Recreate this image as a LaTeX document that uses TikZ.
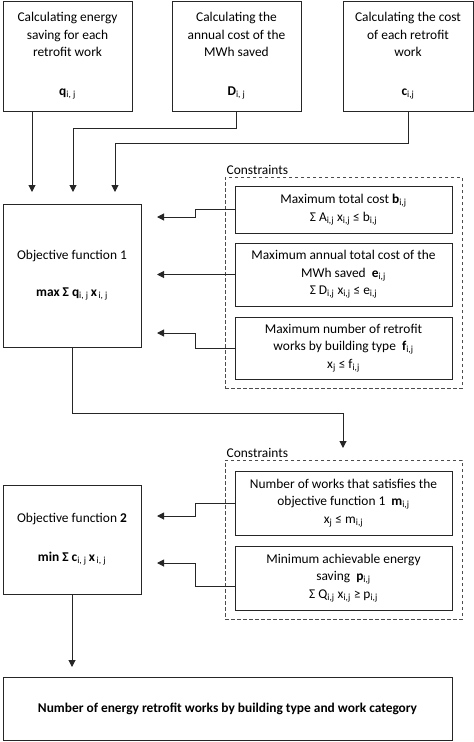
\documentclass[tikz,border=0pt]{standalone}
\usepackage{fontspec}
\setmainfont{Carlito}
\usetikzlibrary{arrows.meta,positioning,calc}

\newcommand{\subij}{\textsubscript{i,j}}

\begin{document}
\begin{tikzpicture}[x=1pt, y=-1pt,
  box/.style={draw=black!85, line width=1pt, align=center, inner sep=2pt,
    font=\fontsize{13.4}{17.5}\selectfont},
  cbox/.style={box, minimum width=217pt},
  dbox/.style={draw=black!70, line width=1pt, dash pattern=on 3.5pt off 2.5pt,
    minimum width=237pt},
  arr/.style={draw=black!85, line width=1pt, -{Triangle[length=7pt,width=7pt]}},
  lbl/.style={font=\fontsize{13.4}{17.5}\selectfont, inner sep=2pt}]
  \useasboundingbox (0,0) rectangle (474,742);

  % Input boxes
  \node[box, minimum width=129pt, minimum height=110pt] (q) at (67.5,56)
    {Calculating energy\\saving for each\\retrofit work\\[21.5pt]\textbf{q}\textsubscript{i, j}};
  \node[box, minimum width=129pt, minimum height=110pt] (D) at (236.5,56)
    {Calculating the\\annual cost of the\\MWh saved\\[21.5pt]\textbf{D}\textsubscript{i, j}};
  \node[box, minimum width=130pt, minimum height=110pt] (c) at (408,56)
    {Calculating the cost\\of each retrofit\\work\\[21.5pt]\textbf{c}\subij};

  % Objective functions
  \node[box, minimum width=138pt, minimum height=143pt] (obj1) at (72,275.5)
    {Objective function 1\\[19.5pt]\textbf{max Σ q}\textsubscript{i, j}\,\textbf{x}\textsubscript{\,i, j}};
  \node[box, minimum width=138pt, minimum height=109pt] (obj2) at (72,539.5)
    {Objective function \textbf{2}\\[21.5pt]\textbf{min Σ c}\textsubscript{i, j}\,\textbf{x}\textsubscript{\,i, j}};

  % First constraints
  \node[dbox, minimum height=211pt] (con1) at (343.5,282.5) {};
  \node[lbl, anchor=south west] (lc1) at (con1.north west) {Constraints};
  \node[cbox, minimum height=47pt] (b) at (343.5,209.5)
    {Maximum total cost \textbf{b}\subij\\Σ A\subij\ x\subij\ ≤ b\subij};
  \node[cbox, minimum height=63pt] (e) at (343.5,274.5)
    {Maximum annual total cost of the\\MWh saved~ \textbf{e}\subij\\Σ D\subij\ x\subij\ ≤ e\subij};
  \node[cbox, minimum height=62pt] (f) at (343.5,348)
    {Maximum number of retrofit\\works by building type~ \textbf{f}\subij\\x\textsubscript{j} ≤ f\subij};

  % Second constraints
  \node[dbox, minimum height=159pt] (con2) at (343.5,539.5) {};
  \node[lbl, anchor=south west] (lc2) at (con2.north west) {Constraints};
  \node[cbox, minimum height=64pt] (m) at (343.5,503)
    {Number of works that satisfies the\\objective function 1~ \textbf{m}\subij\\x\textsubscript{j} ≤ m\subij};
  \node[cbox, minimum height=64pt] (p) at (343.5,578)
    {Minimum achievable energy\\saving~ \textbf{p}\subij\\Σ Q\subij\ x\subij\ ≥ p\subij};

  % Result
  \node[box, minimum width=449pt, minimum height=63pt] (fin) at (227.5,709)
    {\textbf{Number of energy retrofit works by building type and work category}};

  % Arrow ends
  \coordinate (in1) at (32,192);
  \coordinate (in2) at (73,192);
  \coordinate (in3) at (115,192);
  \coordinate (in4) at (343,448);
  \coordinate (o1) at (157,217);
  \coordinate (o2) at (157,274.5);
  \coordinate (o3) at (157,333);
  \coordinate (o4) at (157,516);
  \coordinate (o5) at (157,563);

  % Connectors
  \draw[arr] (q.south -| in1) -- (in1);
  \draw[arr] (D.south) -- ++(0,17) -| (in2);
  \draw[arr] (c.south) -- ++(0,32) -| (in3);
  \draw[arr] (b.west) -- ++(-39,0) |- (o1);
  \draw[arr] (e.west) -- (o2);
  \draw[arr] (f.west) -- ++(-39,0) |- (o3);
  \draw[arr] (obj1.south) -- ++(0,66) -| (in4);
  \draw[arr] (m.west) -- ++(-39,0) |- (o4);
  \draw[arr] ($(p.west)+(0,8)$) -- ++(-39,0) |- (o5);
  \draw[arr, shorten >=10pt] (obj2.south) -- (obj2.south |- fin.north);
\end{tikzpicture}
\end{document}
